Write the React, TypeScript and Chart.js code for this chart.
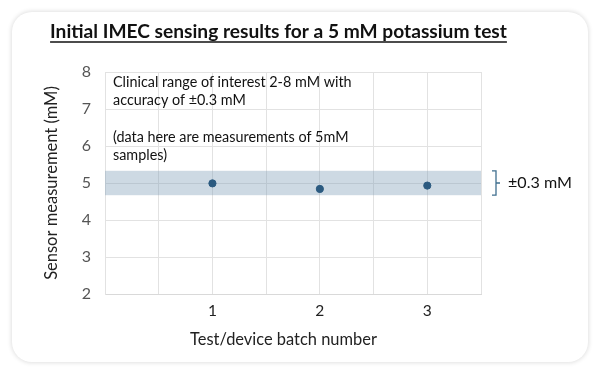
import React, { useEffect, useRef } from "react";
import { Chart, registerables } from "chart.js";

Chart.register(...registerables);

const batches = [1, 2, 3];
const measurements = [4.99, 4.84, 4.93];
const bandLow = 4.67;
const bandHigh = 5.33;
const yTicks = [2, 3, 4, 5, 6, 7, 8];
const xTickLabels = ["1", "2", "3"];
const titleText = "Initial IMEC sensing results for a 5 mM potassium test";
const noteLines = [
  "Clinical range of interest 2-8 mM with",
  "accuracy of \u00b10.3 mM",
  "",
  "(data here are measurements of 5mM",
  "samples)",
];
const bandLabel = "\u00b10.3 mM";
const xTitle = "Test/device batch number";
const yTitle = "Sensor measurement (mM)";

const FONT = "Lato, 'Open Sans', sans-serif";

function fitText(ctx: any, text: string, weight: string, target: number, start: number) {
  let size = start;
  ctx.font = `${weight} ${size}px ${FONT}`;
  const w = ctx.measureText(text).width;
  size = (start * target) / w;
  ctx.font = `${weight} ${size}px ${FONT}`;
  return size;
}

const extras = {
  id: "extras",
  beforeDatasetsDraw(chart: any) {
    const { ctx, chartArea, scales } = chart;
    const y = scales.y;
    const yTop = y.getPixelForValue(bandHigh);
    const yBot = y.getPixelForValue(bandLow);
    ctx.save();
    ctx.fillStyle = "rgba(130,160,185,0.4)";
    ctx.fillRect(chartArea.left, yTop, chartArea.right - chartArea.left, yBot - yTop);
    ctx.restore();
  },
  afterDraw(chart: any) {
    const { ctx, chartArea, scales } = chart;
    const y = scales.y;
    const yTop = y.getPixelForValue(bandHigh);
    const yBot = y.getPixelForValue(bandLow);
    const yMid = (yTop + yBot) / 2;
    ctx.save();
    // Title
    ctx.fillStyle = "#111";
    ctx.textAlign = "center";
    ctx.textBaseline = "middle";
    fitText(ctx, titleText, "bold", 457, 17);
    const tx = 278.5;
    const ty = 32;
    ctx.fillText(titleText, tx, ty);
    const w = ctx.measureText(titleText).width;
    ctx.strokeStyle = "#111";
    ctx.lineWidth = 1.3;
    ctx.beginPath();
    ctx.moveTo(tx - w / 2, ty + 10);
    ctx.lineTo(tx + w / 2, ty + 10);
    ctx.stroke();
    // note
    ctx.textAlign = "left";
    ctx.fillStyle = "#111";
    fitText(ctx, noteLines[0], "", 239, 14);
    noteLines.forEach((l, i) => {
      ctx.fillText(l, chartArea.left + 8, chartArea.top + 10 + i * 18.3);
    });
    // bracket
    const bx = chartArea.right + 11;
    ctx.strokeStyle = "#3f6f8f";
    ctx.lineWidth = 1.3;
    ctx.beginPath();
    ctx.moveTo(bx, yTop);
    ctx.lineTo(bx + 4, yTop);
    ctx.lineTo(bx + 4, yBot);
    ctx.lineTo(bx, yBot);
    ctx.moveTo(bx + 4, yMid);
    ctx.lineTo(bx + 8, yMid);
    ctx.stroke();
    ctx.fillStyle = "#111";
    fitText(ctx, bandLabel, "", 64, 15);
    ctx.fillText(bandLabel, bx + 16, yMid);
    // x title
    ctx.textAlign = "center";
    ctx.fillStyle = "#222";
    fitText(ctx, xTitle, "", 187, 15.5);
    ctx.fillText(xTitle, 283.5, 340);
    ctx.restore();
  },
};

export default function App() {
  const ref = useRef<HTMLCanvasElement>(null);
  useEffect(() => {
    if (!ref.current) return;
    const chart = new Chart(ref.current, {
      type: "scatter",
      data: {
        datasets: [
          {
            data: batches.map((b, i) => ({ x: b, y: measurements[i] })),
            backgroundColor: "#2b5a80",
            borderColor: "#2b5a80",
            pointRadius: 3.6,
            pointHoverRadius: 3.6,
          },
        ],
      },
      options: {
        animation: false,
        responsive: false,
        layout: { padding: { left: 0, top: 72, right: 119, bottom: 0 } },
        plugins: { legend: { display: false }, tooltip: { enabled: false } },
        scales: {
          x: {
            type: "linear",
            min: 0,
            max: 3.5,
            afterFit: (s: any) => {
              s.height = 81;
            },
            afterBuildTicks: (s: any) => {
              const t = [];
              for (let v = 0; v <= 3.5001; v += 0.5) t.push({ value: v });
              s.ticks = t;
            },
            grid: { color: "#e2e2e2", drawTicks: false, lineWidth: 1 },
            border: { display: true, color: "#d9d9d9" },
            ticks: {
              padding: 8,
              color: "#222",
              font: { family: FONT, size: 15.5 },
              callback: (v: any) => {
                const idx = batches.indexOf(Number(v));
                return idx >= 0 ? xTickLabels[idx] : "";
              },
            },
          },
          y: {
            min: 2,
            max: 8,
            afterFit: (s: any) => {
              s.width = 105;
            },
            afterBuildTicks: (s: any) => {
              s.ticks = yTicks.map((v) => ({ value: v }));
            },
            grid: { color: "#e2e2e2", drawTicks: false },
            border: { display: true, color: "#e2e2e2" },
            ticks: {
              padding: 14,
              color: "#555",
              font: { family: FONT, size: 16 },
            },
            title: {
              display: true,
              text: yTitle,
              color: "#222",
              font: { family: FONT, size: 16.5 },
              padding: { top: 42, bottom: 0 },
            },
          },
        },
      },
      plugins: [extras],
    });
    return () => chart.destroy();
  }, []);
  return (
    <div style={{ position: "fixed", left: 0, top: 0, width: 600, height: 375, background: "#fff" }}>
      <div
        style={{
          position: "absolute",
          left: 12,
          top: 12,
          width: 576,
          height: 350,
          borderRadius: 20,
          boxShadow: "0 0 4px 1px rgba(0,0,0,0.12)",
          background: "#fff",
        }}
      />
      <canvas ref={ref} width={600} height={375} style={{ position: "absolute", left: 0, top: 0 }} />
    </div>
  );
}
